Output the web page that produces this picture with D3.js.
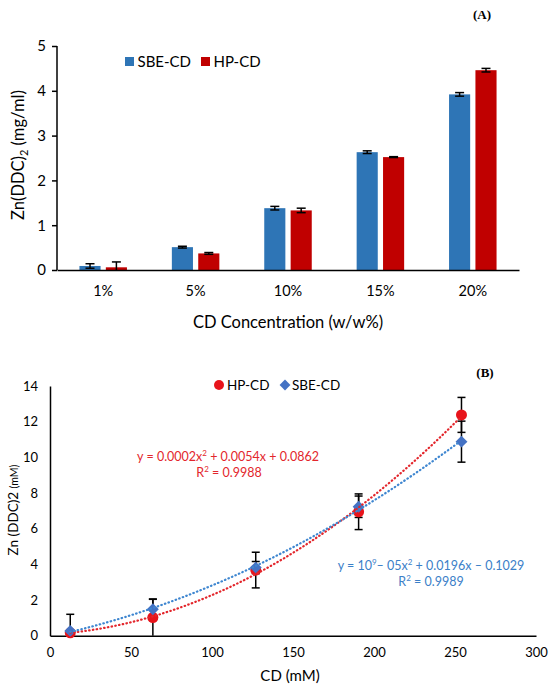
<!DOCTYPE html>
<html><head><meta charset="utf-8">
<script src="https://cdn.jsdelivr.net/npm/d3@7"></script>
<style>body{margin:0;background:#fff}svg{display:block}text{font-family:Lato,"Open Sans",sans-serif}</style>
</head><body><svg id="c" width="550" height="688"></svg>
<script>
// ---- Panel A data ----
const catsA = ["1%","5%","10%","15%","20%"];
const seriesA = ["SBE-CD","HP-CD"];
const sbeVals = [0.09,0.51,1.38,2.63,3.92];
const sbeErr  = [0.05,0.02,0.04,0.03,0.04];
const hpVals  = [0.06,0.37,1.33,2.52,4.46];
const hpErr   = [0.12,0.02,0.05,0.01,0.04];
const ticksA = [0,1,2,3,4,5];
// ---- Panel B data ----
const cdMM = [12.5,63.5,127,190.5,254];
const hpB  = [0.16,1.02,3.68,6.95,12.38];
const hpBErr = [0.1,1.02,1.0,1.0,0.98];
const sbeB = [0.27,1.48,3.82,7.23,10.88];
const sbeBErr = [0.93,0.58,0.34,0.6,1.15];
const ticksBx = [0,50,100,150,200,250,300];
const ticksBy = [0,2,4,6,8,10,12,14];

const colSBE = "#2E75B6", colHP = "#C00000";
const colHPpt = "#E8141B", colSBEpt = "#4472C4";
const svg = d3.select("#c");

// ================= Panel A =================
const xA = d3.scaleBand().domain(catsA).range([57,519]).padding(0);
const xInner = d3.scaleBand().domain(seriesA).range([-23.75,23.75]).paddingInner(0.2);
const yA = d3.scaleLinear().domain([0,5]).range([270,46]);
const gA = svg.append("g");
const dataA = [];
catsA.forEach((c,i)=>{
  dataA.push({c, s:"SBE-CD", v:sbeVals[i], e:sbeErr[i], col:colSBE});
  dataA.push({c, s:"HP-CD", v:hpVals[i], e:hpErr[i], col:colHP});
});
gA.selectAll("rect.bar").data(dataA).join("rect")
  .attr("x", d=>xA(d.c)+xA.bandwidth()/2+xInner(d.s))
  .attr("width", xInner.bandwidth())
  .attr("y", d=>yA(d.v)).attr("height", d=>yA(0)-yA(d.v))
  .attr("fill", d=>d.col);
// error bars
const eA = gA.selectAll("g.err").data(dataA).join("g").attr("stroke","#000").attr("stroke-width",1.5);
eA.each(function(d){
  const cx = xA(d.c)+xA.bandwidth()/2+xInner(d.s)+xInner.bandwidth()/2;
  const g = d3.select(this);
  const lo = Math.max(0,d.v-d.e), hi = d.v+d.e;
  g.append("line").attr("x1",cx).attr("x2",cx).attr("y1",yA(lo)).attr("y2",yA(hi));
  g.append("line").attr("x1",cx-4.5).attr("x2",cx+4.5).attr("y1",yA(hi)).attr("y2",yA(hi));
  if (d.v-d.e>0) g.append("line").attr("x1",cx-4.5).attr("x2",cx+4.5).attr("y1",yA(lo)).attr("y2",yA(lo));
});
// axes
const yAxA = gA.append("g").attr("transform","translate(57,0)")
  .call(d3.axisLeft(yA).tickValues(ticksA).tickSize(5).tickPadding(6).tickFormat(d3.format("d")));
yAxA.select(".domain").attr("stroke","#000").attr("stroke-width",1.5).attr("d","M0,270V46");
yAxA.selectAll(".tick line").attr("stroke","#000").attr("stroke-width",1.5);
yAxA.selectAll(".tick text").attr("font-size",15).attr("fill","#000").style("font-family","Lato");
const xAxA = gA.append("g").attr("transform","translate(0,270)")
  .call(d3.axisBottom(xA).tickSize(0).tickPadding(16));
xAxA.select(".domain").attr("stroke","#000").attr("stroke-width",1.5);
xAxA.selectAll(".tick text").attr("font-size",14.5).attr("fill","#000").style("font-family","Lato");
gA.append("text").attr("x",288).attr("y",328).attr("text-anchor","middle").attr("font-size",16.5).text("CD Concentration (w/w%)");
const ylA = gA.append("text").attr("transform","translate(24,155) rotate(-90)").attr("text-anchor","middle").attr("font-size",16.5);
ylA.append("tspan").text("Zn(DDC)");
ylA.append("tspan").attr("font-size",11).attr("dy",4).text("2");
ylA.append("tspan").attr("dy",-4).text(" (mg/ml)");
// legend A
const legA = [{s:"SBE-CD",col:colSBE,x:125},{s:"HP-CD",col:colHP,x:201}];
legA.forEach(l=>{
  gA.append("rect").attr("x",l.x).attr("y",57).attr("width",9).attr("height",9).attr("fill",l.col);
  gA.append("text").attr("x",l.x+12.5).attr("y",66.5).attr("font-size",15).text(l.s);
});
gA.append("text").attr("x",482).attr("y",19).attr("text-anchor","middle").attr("font-size",13)
  .attr("font-weight","bold").style("font-family","'Liberation Serif',serif").text("(A)");

// ================= Panel B =================
const xB = d3.scaleLinear().domain([0,300]).range([50,536]);
const yB = d3.scaleLinear().domain([0,14]).range([635.7,386]);
const gB = svg.append("g");
const xAxB = gB.append("g").attr("transform","translate(0,635.7)")
  .call(d3.axisBottom(xB).tickValues(ticksBx).tickSize(0).tickPadding(12));
xAxB.select(".domain").attr("stroke","#000").attr("stroke-width",1.5);
xAxB.selectAll(".tick text").attr("font-size",13).attr("fill","#000").style("font-family","Lato");
const yAxB = gB.append("g").attr("transform","translate(50,0)")
  .call(d3.axisLeft(yB).tickValues(ticksBy).tickSize(0).tickPadding(12));
yAxB.select(".domain").attr("stroke","#000").attr("stroke-width",1.5);
yAxB.selectAll(".tick text").attr("font-size",13).attr("fill","#000").style("font-family","Lato");
gB.append("text").attr("x",290).attr("y",681).attr("text-anchor","middle").attr("font-size",15).text("CD (mM)");
const ylB = gB.append("text").attr("transform","translate(18,510) rotate(-90)").attr("text-anchor","middle").attr("font-size",13.5);
ylB.append("tspan").text("Zn (DDC)2 ");
ylB.append("tspan").attr("font-size",10.5).text("(mM)");

// quadratic least-squares fit
function quadFit(xs, ys){
  let S=[[0,0,0],[0,0,0],[0,0,0]], b=[0,0,0];
  xs.forEach((x,i)=>{const p=[1,x,x*x];for(let r=0;r<3;r++){b[r]+=p[r]*ys[i];for(let c=0;c<3;c++)S[r][c]+=p[r]*p[c];}});
  const M=S.map((r,i)=>[...r,b[i]]);
  for(let i=0;i<3;i++){let m=i;for(let k=i+1;k<3;k++)if(Math.abs(M[k][i])>Math.abs(M[m][i]))m=k;[M[i],M[m]]=[M[m],M[i]];
    for(let k=i+1;k<3;k++){const f=M[k][i]/M[i][i];for(let j=i;j<4;j++)M[k][j]-=f*M[i][j];}}
  const x=[0,0,0];for(let i=2;i>=0;i--){let s=M[i][3];for(let j=i+1;j<3;j++)s-=M[i][j]*x[j];x[i]=s/M[i][i];}
  return t=>x[0]+x[1]*t+x[2]*t*t;
}
const line = d3.line().x(d=>xB(d[0])).y(d=>yB(d[1]));
const seriesB = [
  {name:"HP-CD", ys:hpB, err:hpBErr, col:colHPpt, lc:"#E3262C"},
  {name:"SBE-CD", ys:sbeB, err:sbeBErr, col:colSBEpt, lc:"#3E86D0"}
];
// error bars
seriesB.forEach(s=>{
  s.ys.forEach((v,i)=>{
    const cx=xB(cdMM[i]); const lo=Math.max(0,v-s.err[i]), hi=v+s.err[i];
    const g=gB.append("g").attr("stroke","#000").attr("stroke-width",1.5);
    g.append("line").attr("x1",cx).attr("x2",cx).attr("y1",yB(lo)).attr("y2",yB(hi));
    g.append("line").attr("x1",cx-4).attr("x2",cx+4).attr("y1",yB(hi)).attr("y2",yB(hi));
    if(v-s.err[i]>0) g.append("line").attr("x1",cx-4).attr("x2",cx+4).attr("y1",yB(lo)).attr("y2",yB(lo));
  });
});
// markers
gB.selectAll("circle.hp").data(hpB).join("circle").attr("cx",(d,i)=>xB(cdMM[i])).attr("cy",d=>yB(d)).attr("r",5.5).attr("fill",colHPpt);
const diamond = d3.symbol().type(d3.symbolDiamond2).size(90);
gB.selectAll("path.sbe").data(sbeB).join("path").attr("d",diamond)
  .attr("transform",(d,i)=>`translate(${xB(cdMM[i])},${yB(d)})`).attr("fill",colSBEpt);
// trendlines
seriesB.forEach(s=>{
  const f=quadFit(cdMM,s.ys);
  const pts=d3.range(cdMM[0],cdMM[cdMM.length-1]+0.01,2).map(t=>[t,f(t)]);
  gB.append("path").attr("d",line(pts)).attr("fill","none").attr("stroke",s.lc).attr("stroke-width",2.2)
    .attr("stroke-dasharray","0.5 3.3").attr("stroke-linecap","round");
});
// equations
const eqR = gB.append("text").attr("x",228).attr("y",461).attr("text-anchor","middle").attr("font-size",12.5).attr("fill","#E3262C");
eqR.append("tspan").text("y = 0.0002x");eqR.append("tspan").attr("dy",-5).attr("font-size",8).text("2");
eqR.append("tspan").attr("dy",5).text(" + 0.0054x + 0.0862");
const r2R = gB.append("text").attr("x",229).attr("y",477).attr("text-anchor","middle").attr("font-size",12.5).attr("fill","#E3262C");
r2R.append("tspan").text("R");r2R.append("tspan").attr("dy",-5).attr("font-size",8).text("2");r2R.append("tspan").attr("dy",5).text(" = 0.9988");
const eqB = gB.append("text").attr("x",431).attr("y",570).attr("text-anchor","middle").attr("font-size",12.5).attr("fill","#3B80C8");
eqB.append("tspan").text("y = 10");eqB.append("tspan").attr("dy",-5).attr("font-size",8).text("9");
eqB.append("tspan").attr("dy",5).text("– 05x");eqB.append("tspan").attr("dy",-5).attr("font-size",8).text("2");
eqB.append("tspan").attr("dy",5).text(" + 0.0196x – 0.1029");
const r2B = gB.append("text").attr("x",431).attr("y",586).attr("text-anchor","middle").attr("font-size",12.5).attr("fill","#3B80C8");
r2B.append("tspan").text("R");r2B.append("tspan").attr("dy",-5).attr("font-size",8).text("2");r2B.append("tspan").attr("dy",5).text(" = 0.9989");
// legend B
gB.append("circle").attr("cx",219).attr("cy",385).attr("r",5).attr("fill",colHPpt);
gB.append("text").attr("x",227).attr("y",390).attr("font-size",13.5).text("HP-CD");
gB.append("path").attr("d",d3.symbol().type(d3.symbolDiamond2).size(75)).attr("transform","translate(285,385)").attr("fill",colSBEpt);
gB.append("text").attr("x",292).attr("y",390).attr("font-size",13.5).text("SBE-CD");
gB.append("text").attr("x",485).attr("y",377).attr("text-anchor","middle").attr("font-size",13)
  .attr("font-weight","bold").style("font-family","'Liberation Serif',serif").text("(B)");
</script></body></html>
